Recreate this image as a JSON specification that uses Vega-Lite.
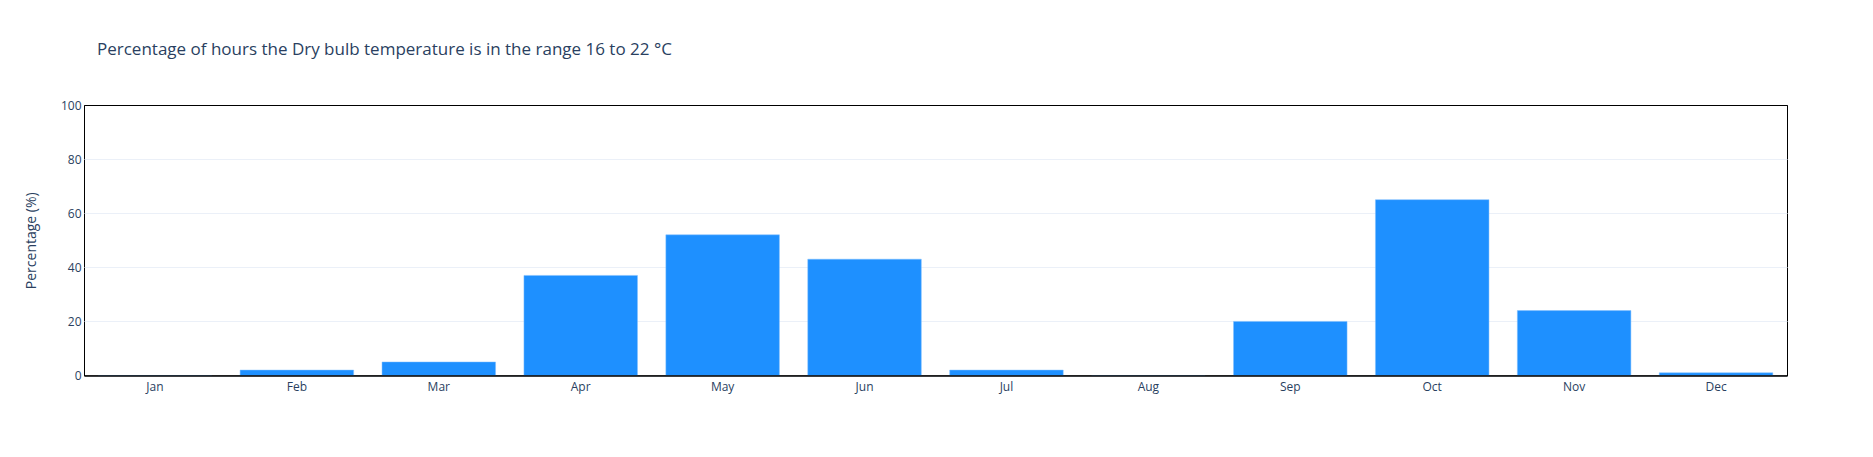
{"$schema":"https://vega.github.io/schema/vega-lite/v6.json","width":1703,"height":270.5,"autosize":{"type":"none"},"padding":{"left":84,"top":105,"right":86,"bottom":81.5},"background":"white","title":{"text":"Percentage of hours the Dry bulb temperature is in the range 16 to 22 °C","anchor":"start","frame":"group","dx":13,"offset":40,"font":"Open Sans","fontSize":17,"fontWeight":"normal","color":"#2a3f5f"},"config":{"view":{"stroke":"black","strokeWidth":1},"axis":{"labelFont":"Open Sans","titleFont":"Open Sans","labelColor":"#2a3f5f","titleColor":"#2a3f5f","labelFontSize":12,"titleFontWeight":"normal"}},"data":{"values":[{"month":"Jan","pct":0},{"month":"Feb","pct":2},{"month":"Mar","pct":5},{"month":"Apr","pct":37},{"month":"May","pct":52},{"month":"Jun","pct":43},{"month":"Jul","pct":2},{"month":"Aug","pct":0},{"month":"Sep","pct":20},{"month":"Oct","pct":65},{"month":"Nov","pct":24},{"month":"Dec","pct":1}]},"mark":{"type":"bar","color":"#1E90FF","stroke":"#7fbfff","strokeWidth":0.5},"encoding":{"x":{"field":"month","type":"nominal","sort":null,"title":null,"scale":{"paddingInner":0.2,"paddingOuter":0.1},"axis":{"labelAngle":0,"ticks":false,"domain":true,"domainColor":"black","domainWidth":1.3,"zindex":1,"grid":false,"labelPadding":6}},"y":{"field":"pct","type":"quantitative","title":"Percentage (%)","scale":{"domain":[0,100],"nice":false},"axis":{"values":[0,20,40,60,80,100],"ticks":false,"domain":false,"grid":true,"gridColor":{"condition":{"test":"datum.value===100","value":"black"},"value":"#EBF0F8"},"gridWidth":1,"labelPadding":3,"titleFontSize":14,"titlePadding":22}}}}
